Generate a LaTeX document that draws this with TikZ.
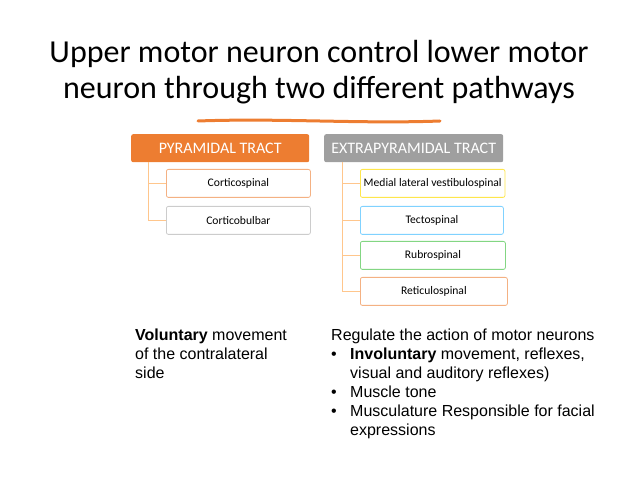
\documentclass[tikz,border=0pt]{standalone}
\usepackage{fontspec}
\setmainfont{Carlito}
\newfontfamily\arial{Liberation Sans}
\begin{document}
\begin{tikzpicture}[x=1pt,y=-1pt,
  hdr/.style={rounded corners=2pt,minimum width=178pt,minimum height=28pt,text=white,font=\fontsize{16}{18}\selectfont,anchor=north west},
  child/.style={draw,line width=0.8pt,rounded corners=2pt,fill=white,minimum width=#1,minimum height=28pt,font=\fontsize{11.6}{13}\selectfont,anchor=north west},
  conn/.style={draw=orange!45,line width=0.8pt},
  body/.style={font=\arial\fontsize{16}{19}\selectfont,align=left,anchor=north west,inner sep=0pt}]
\definecolor{org}{RGB}{237,125,49}
\useasboundingbox (0,0) rectangle (638,478);
\node[font=\fontsize{32}{36}\selectfont,align=center] (title) at (319,72) {Upper motor neuron control lower motor\\neuron through two different pathways};
\coordinate (u1) at (198,121); \coordinate (u2) at (440,121);
\draw[org,line width=3pt,line cap=round] (u1) .. controls (280,118) and (360,124) .. (u2);
\node[hdr,fill=org] (pyr) at (131,134) {PYRAMIDAL TRACT};
\node[hdr,fill=gray!75,minimum width=179pt] (ext) at (324,134) {EXTRAPYRAMIDAL TRACT};
\node[child=144pt,draw=org!60] (c1) at (166,169) {Corticospinal};
\node[child=144pt,draw=gray!40] (c2) at (166,206) {Corticobulbar};
\node[child=143pt,draw=yellow!80!orange!70] (e1) at (360,169) {Medial lateral vestibulospinal};
\node[child=143pt,draw=blue!35!cyan!50] (e2) at (360,206) {Tectospinal};
\node[child=145pt,draw=green!50!gray!65] (e3) at (360,241) {Rubrospinal};
\node[child=147pt,draw=org!60] (e4) at (360,277) {Reticulospinal};
\foreach \c in {c1,c2} \draw[conn] (pyr.south west) ++(17,0) |- (\c.west);
\foreach \c in {e1,e2,e3,e4} \draw[conn] (ext.south west) ++(18,0) |- (\c.west);
\node[body] (lt) at (135,329) {\textbf{Voluntary} movement\\of the contralateral\\side};
\node[body] (rt) at (331,329) {Regulate the action of motor neurons\\
\makebox[19pt][l]{•}\textbf{Involuntary} movement, reflexes,\\
\hspace*{19pt}visual and auditory reflexes)\\
\makebox[19pt][l]{•}Muscle tone\\
\makebox[19pt][l]{•}Musculature Responsible for facial\\
\hspace*{19pt}expressions};
\end{tikzpicture}
\end{document}
